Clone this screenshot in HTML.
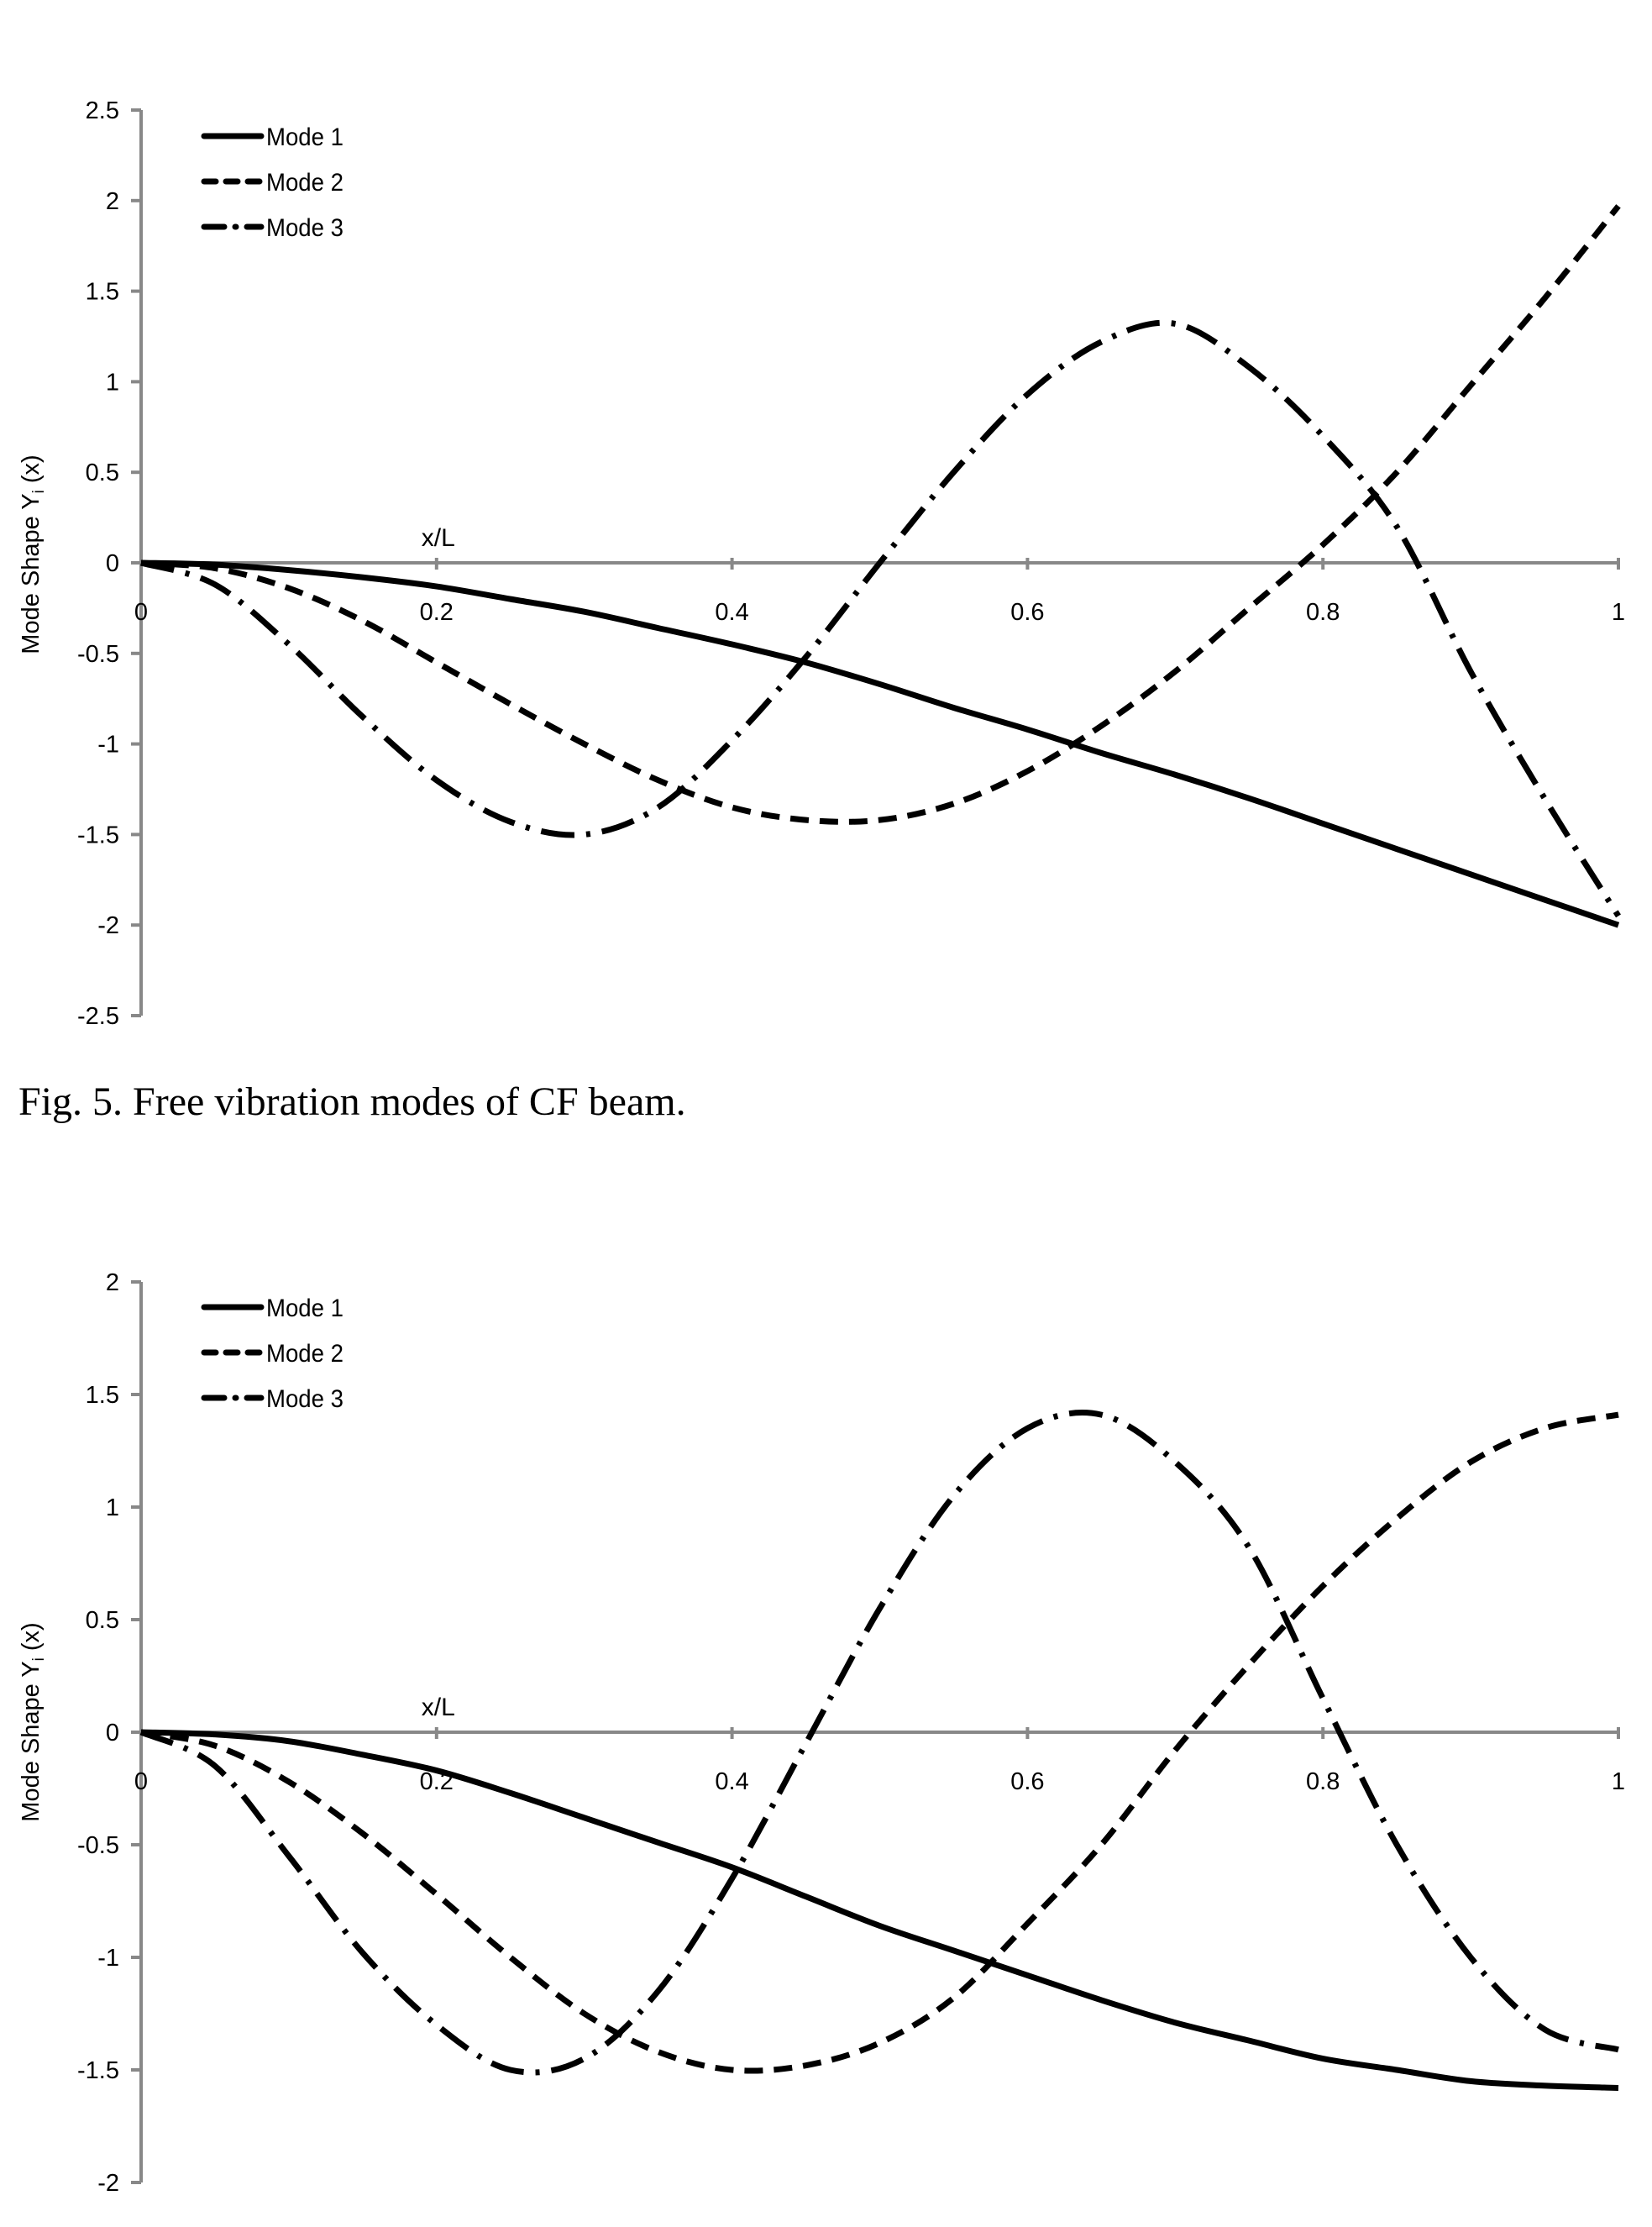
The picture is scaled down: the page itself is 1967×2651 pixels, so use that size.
<!DOCTYPE html>
<html><head><meta charset="utf-8">
<style>
html,body{margin:0;padding:0;background:#fff;}
svg{display:block;}
text{font-family:"Liberation Sans",sans-serif;fill:#000;}
.cap{font-family:"Liberation Serif",serif;font-size:48px;}
</style></head>
<body>
<svg id="svg" width="1967" height="2651" viewBox="0 0 1967 2651">
<text class="cap" x="22" y="1327">Fig. 5. Free vibration modes of CF beam.</text>
<g id="c1"></g>
<g id="c2"></g>
</svg>
<script>
const xs = [0,0.05,0.1,0.15,0.2,0.25,0.3,0.35,0.4,0.45,0.5,0.55,0.6,0.65,0.7,0.75,0.8,0.85,0.9,0.95,1];
const xTicks = [0,0.2,0.4,0.6,0.8,1];
const xTickLabels = ["0","0.2","0.4","0.6","0.8","1"];
const c1Mode1 = [0,-0.01,-0.04,-0.08,-0.13,-0.2,-0.27,-0.36,-0.45,-0.55,-0.67,-0.8,-0.92,-1.05,-1.17,-1.3,-1.44,-1.58,-1.72,-1.86,-2.0];
const c1Mode2 = [0,-0.03,-0.14,-0.32,-0.55,-0.78,-1.0,-1.2,-1.35,-1.42,-1.42,-1.33,-1.15,-0.9,-0.6,-0.25,0.1,0.5,0.98,1.46,1.97];
const c1Mode3 = [0,-0.12,-0.45,-0.85,-1.2,-1.43,-1.5,-1.35,-0.98,-0.52,0,0.5,0.93,1.22,1.32,1.08,0.7,0.2,-0.6,-1.3,-1.95];
const c1YTicks = [2.5,2,1.5,1,0.5,0,-0.5,-1,-1.5,-2,-2.5];
const c2Mode1 = [0,-0.01,-0.04,-0.1,-0.17,-0.27,-0.38,-0.49,-0.6,-0.73,-0.86,-0.97,-1.08,-1.19,-1.29,-1.37,-1.45,-1.5,-1.55,-1.57,-1.58];
const c2Mode2 = [0,-0.06,-0.22,-0.45,-0.72,-1.0,-1.25,-1.42,-1.5,-1.48,-1.38,-1.18,-0.85,-0.5,-0.08,0.3,0.65,0.95,1.2,1.35,1.41];
const c2Mode3 = [0,-0.15,-0.55,-0.98,-1.3,-1.5,-1.45,-1.15,-0.65,-0.05,0.55,1.05,1.35,1.41,1.2,0.82,0.15,-0.5,-1.0,-1.32,-1.41];
const c2YTicks = [2,1.5,1,0.5,0,-0.5,-1,-1.5,-2];

const NS="http://www.w3.org/2000/svg";
function mk(tag,attrs,parent){const e=document.createElementNS(NS,tag);for(const k in attrs)e.setAttribute(k,attrs[k]);parent.appendChild(e);return e;}
const dashes=[null,"22 13","40 14 5 14"];

function chart(g,cfg,modes,yTicks){
  const X=v=>cfg.x0+(cfg.x1-cfg.x0)*v;
  const Y=v=>cfg.y0-cfg.k*v;
  const yMax=yTicks[0], yMin=yTicks[yTicks.length-1];
  const ax=mk('line',{x1:X(0),y1:Y(yMax),x2:X(0),y2:Y(yMin),stroke:'#888','stroke-width':4},g);
  
  
  const hx=mk('line',{x1:X(0),y1:Y(0),x2:X(1),y2:Y(0),stroke:'#888','stroke-width':4},g);
  
  
  yTicks.forEach(t=>{
    const l=mk('line',{x1:X(0)-12,y1:Y(t),x2:X(0),y2:Y(t),stroke:'#888','stroke-width':4},g);
    
    
    const tx=mk('text',{x:X(0)-26,y:Y(t)+10,'text-anchor':'end','font-size':29},g);
    tx.textContent=String(t);
    
    
  });
  xTicks.forEach((t,i)=>{
    const l=mk('line',{x1:X(t),y1:Y(0)-6,x2:X(t),y2:Y(0)+8,stroke:'#888','stroke-width':4},g);
    
    
    const tx=mk('text',{x:X(t),y:Y(0)+68,'text-anchor':'middle','font-size':29},g);
    tx.textContent=xTickLabels[i];
    
    
  });
  const xl=mk('text',{x:X(0.2)+2,y:Y(0)-20,'text-anchor':'middle','font-size':30},g);
  xl.textContent='x/L';
  
  
  const yl=mk('text',{x:0,y:0,'text-anchor':'middle','font-size':29,transform:`translate(${cfg.ylx},${cfg.yly}) rotate(-90)`},g);
  yl.innerHTML='Mode Shape Y<tspan font-size="19" dy="6">i</tspan><tspan dy="-6"> (x)</tspan>';
  
  
  modes.forEach((m,mi)=>{
    const pts=xs.map((x,i)=>[X(x),Y(m[i])]);
    let d=`M${pts[0][0]},${pts[0][1]}`;
    for(let i=0;i<pts.length-1;i++){
      const p0=pts[Math.max(0,i-1)],p1=pts[i],p2=pts[i+1],p3=pts[Math.min(pts.length-1,i+2)];
      d+=` C${p1[0]+(p2[0]-p0[0])/6},${p1[1]+(p2[1]-p0[1])/6} ${p2[0]-(p3[0]-p1[0])/6},${p2[1]-(p3[1]-p1[1])/6} ${p2[0]},${p2[1]}`;
    }
    const a={d:d,fill:'none',stroke:'#000','stroke-width':7,'stroke-linejoin':'round'};
    if(dashes[mi])a['stroke-dasharray']=dashes[mi];
    const p=mk('path',a,g);
    
    
    const ly=cfg.legY+mi*54;
    const la={x1:243,y1:ly,x2:311,y2:ly,stroke:'#000','stroke-width':7,'stroke-linecap':'round'};
    if(mi==1)la['stroke-dasharray']='14 12';
    if(mi==2)la['stroke-dasharray']='24 13 1 13';
    const ll=mk('line',la,g);
    
    
    const lt=mk('text',{x:317,y:ly+11,'font-size':30,textLength:92,lengthAdjust:'spacingAndGlyphs'},g);
    lt.textContent='Mode '+(mi+1);
    
    
  });
}
chart(document.getElementById('c1'),{x0:168,x1:1927,y0:670,k:215.6,legY:162,ylx:46,yly:660},[c1Mode1,c1Mode2,c1Mode3],c1YTicks);
chart(document.getElementById('c2'),{x0:168,x1:1927,y0:2062,k:268,legY:1556,ylx:46,yly:2050},[c2Mode1,c2Mode2,c2Mode3],c2YTicks);
</script>
</body></html>
